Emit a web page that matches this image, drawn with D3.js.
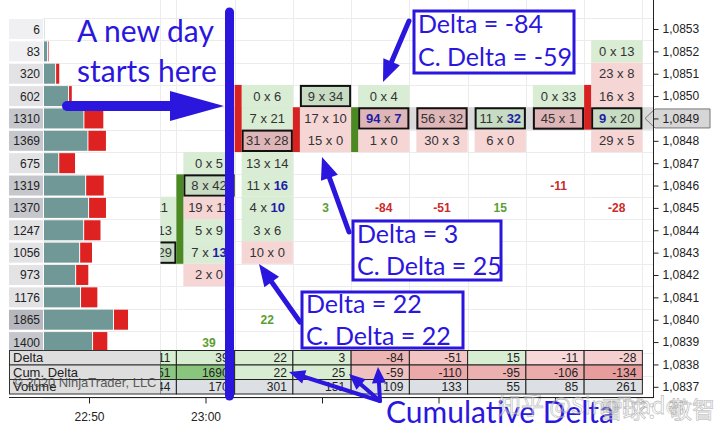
<!DOCTYPE html>
<html><head><meta charset="utf-8">
<script src="https://cdn.jsdelivr.net/npm/d3@7"></script>
<style>html,body{margin:0;padding:0;background:#fff;}svg{display:block;font-family:Arial,"Liberation Sans",sans-serif;}</style>
</head><body><svg id="c" width="720" height="433"></svg>
<script>
// ---------- DATA ----------
const priceTicks = [1.0853,1.0852,1.0851,1.0850,1.0849,1.0848,1.0847,1.0846,1.0845,1.0844,1.0843,1.0842,1.0841,1.0840,1.0839,1.0838,1.0837];
const profilePrices = [1.0853,1.0852,1.0851,1.0850,1.0849,1.0848,1.0847,1.0846,1.0845,1.0844,1.0843,1.0842,1.0841,1.0840,1.0839];
const profileVolume = [6,83,320,602,1310,1369,675,1319,1370,1247,1056,973,1176,1865,1400];
const profileTeal   = [6,70,250,540,885,975,320,925,990,880,790,700,810,1550,1080];

const barTimes = ["22:55","23:00","23:05","23:10","23:15","23:20","23:25","23:30","23:35"];
const barOpen  = [null,1.0843,1.0850,1.0849,1.0848,1.0849,1.0849,1.0849,1.0850];
const barClose = [null,1.0846,1.0848,1.0848,1.0849,1.0849,1.0849,1.0849,1.0849];
const pocPrice = [1.0843,1.0846,1.0848,1.0850,1.0849,1.0849,1.0849,1.0849,1.0849];
// [price, bid, ask]
const fp2255 = [[1.0845,8,11],[1.0844,12,13],[1.0843,10,29]];
const fp2300 = [[1.0847,0,5],[1.0846,8,42],[1.0845,19,11],[1.0844,5,9],[1.0843,7,13],[1.0842,2,0]];
const fp2305 = [[1.0850,0,6],[1.0849,7,21],[1.0848,31,28],[1.0847,13,14],[1.0846,11,16],[1.0845,4,10],[1.0844,3,6],[1.0843,10,0]];
const fp2310 = [[1.0850,9,34],[1.0849,17,10],[1.0848,15,0]];
const fp2315 = [[1.0850,0,4],[1.0849,94,7],[1.0848,1,0]];
const fp2320 = [[1.0849,56,32],[1.0848,30,3]];
const fp2325 = [[1.0849,11,32],[1.0848,6,0]];
const fp2330 = [[1.0850,0,33],[1.0849,45,1]];
const fp2335 = [[1.0852,0,13],[1.0851,23,8],[1.0850,16,3],[1.0849,9,20],[1.0848,29,5]];
const footprint = [fp2255,fp2300,fp2305,fp2310,fp2315,fp2320,fp2325,fp2330,fp2335];

const deltaRow    = [11,39,22,3,-84,-51,15,-11,-28];
const cumDeltaRow = [1651,1690,22,25,-59,-110,-95,-106,-134];
const volumeRow   = [144,170,301,151,109,133,55,85,261];
const tableNames  = ["Delta","Cum. Delta","Volume"];
const timeTicks   = ["22:50","23:00","23:10","23:20","23:30"];
const timeLabels  = ["22:50","23:00"];
const currentPrice = 1.0849;
const newDayStart = "23:05";

// ---------- SETUP ----------
const svg = d3.select("#c");
const BLUE = "#2b16de";
const parseT = s => { const [h,m] = s.split(":").map(Number); return new Date(2020,0,1,h,m); };
const x = d3.scaleTime().domain([parseT("22:50"), parseT("23:00")]).range([89, 205.5]);
const colW = x(parseT("22:55")) - x(parseT("22:50"));
const y = d3.scaleLinear().domain([1.0853, 1.0837]).range([29, 386.8]);
const rowH = y(1.0852) - y(1.0853);
const TICK = 0.0001;
const key = p => Math.round(p*10000);
const AXX = 653;

svg.append("rect").attr("width",720).attr("height",433).attr("fill","#fff");

const defs = svg.append("defs");
defs.append("clipPath").attr("id","plotClip").append("rect").attr("x",160.5).attr("y",0).attr("width",AXX-160.5).attr("height",433);

// ---------- GRID ----------
const grid = svg.append("g").attr("stroke","#ececec").attr("stroke-width",1);
[1.0854].concat(priceTicks).forEach(p => {
  const yy = Math.round(y(p)+rowH/2)+0.5;
  grid.append("line").attr("x1",43).attr("x2",AXX).attr("y1",yy).attr("y2",yy);
});
d3.timeMinute.every(5).range(parseT("22:45"), parseT("23:45")).forEach(t => {
  const xx = Math.round(x(t) - colW/2)+0.5;
  if (xx > 160 && xx < AXX) grid.append("line").attr("x1",xx).attr("x2",xx).attr("y1",0).attr("y2",350);
});
grid.append("line").attr("x1",160.5).attr("x2",160.5).attr("y1",0).attr("y2",350);

// ---------- FOOTPRINT ----------
const fpG = svg.append("g").attr("clip-path","url(#plotClip)");
fpG.append("rect").attr("x", x(parseT(newDayStart)) - colW/2).attr("width", AXX - (x(parseT(newDayStart)) - colW/2))
  .attr("y", y(currentPrice)-rowH/2).attr("height", rowH).attr("fill","#dadada");

footprint.forEach((cells, i) => {
  const cx = x(parseT(barTimes[i]));
  const left = cx - colW/2;
  const cellX = left + 7, cellW = colW - 7;
  const bidAt = {}, askAt = {};
  cells.forEach(([p,b,a]) => { bidAt[key(p)] = b; askAt[key(p)] = a; });
  const g = fpG.append("g");
  cells.forEach(([p,b,a]) => {
    const boxed = key(p) === key(pocPrice[i]);
    const red = b > a;
    const fill = boxed ? (red ? "#dfb6b8" : "#c8dbc3") : (red ? "#f6d5d5" : "#d9ecd4");
    g.append("rect").attr("x",cellX).attr("y",y(p)-rowH/2).attr("width",cellW).attr("height",rowH).attr("fill",fill);
    if (boxed) g.append("rect").attr("x",cellX+1).attr("y",y(p)-rowH/2+1).attr("width",cellW-2).attr("height",rowH-2)
      .attr("fill","none").attr("stroke","#111").attr("stroke-width",2);
    const bBelow = bidAt[key(p)-1], aAbove = askAt[key(p)+1];
    const askImb = bBelow > 0 && a >= 3*bBelow;
    const bidImb = aAbove > 0 && b >= 3*aAbove;
    const t = g.append("text").attr("x",cellX+cellW/2).attr("y",y(p)+4.5).attr("text-anchor","middle")
      .attr("font-size",13).attr("fill","#333");
    t.append("tspan").text(b).attr("fill",bidImb?"#1f1fa5":null).attr("font-weight",bidImb?"bold":null);
    t.append("tspan").text(" x ");
    t.append("tspan").text(a).attr("fill",askImb?"#1f1fa5":null).attr("font-weight",askImb?"bold":null);
  });
  if (barOpen[i] !== null && key(barOpen[i]) !== key(barClose[i])) {
    const hi = Math.max(barOpen[i], barClose[i]), lo = Math.min(barOpen[i], barClose[i]);
    g.append("rect").attr("x",left).attr("width",7).attr("y",y(hi)-rowH/2).attr("height",y(lo)-y(hi)+rowH)
      .attr("fill", barClose[i] > barOpen[i] ? "#4b8a22" : "#d82222");
  }
  const low = d3.min(cells, c => c[0]);
  g.append("text").attr("x",cellX+cellW/2).attr("y",y(low-3*TICK)+4.5).attr("text-anchor","middle")
    .attr("font-size",12).attr("font-weight","bold").attr("fill",deltaRow[i]>=0?"#5a9e30":"#cc2a2a").text(deltaRow[i]);
});

// ---------- VOLUME PROFILE ----------
const px = d3.scaleLinear().domain([0,1865]).range([44,127]);
const labelFill = d3.scaleThreshold().domain([100,1300,1800]).range(["#f0f0f2","#e3e3e6","#c6c7cc","#b6b7be"]);
const prof = svg.append("g");
profilePrices.forEach((p,i) => {
  const yc = y(p);
  prof.append("rect").attr("x",9).attr("y",yc-10).attr("width",34).attr("height",20).attr("fill",labelFill(profileVolume[i]));
  prof.append("text").attr("x",40).attr("y",yc+4.5).attr("text-anchor","end").attr("font-size",12).attr("fill","#222").text(profileVolume[i]);
  prof.append("rect").attr("x",px(0)).attr("y",yc-10).attr("width",px(profileTeal[i])-px(0)).attr("height",20).attr("fill","#6f9896");
  const rw = px(profileVolume[i]) - px(profileTeal[i]);
  if (rw > 0.5) prof.append("rect").attr("x",px(profileTeal[i])+1).attr("y",yc-10).attr("width",rw).attr("height",20).attr("fill","#de2222");
});

// ---------- TABLE ----------
const tTop = 350.5, tRow = 14.5;
const posFill = d3.scaleLinear().domain([0,2000]).range(["#d9eed3","#7cbd6e"]).clamp(true);
const negFill = d3.scaleLinear().domain([0,-150]).range(["#f8dcdc","#e69696"]).clamp(true);
const tab = svg.append("g");
[deltaRow, cumDeltaRow, volumeRow].forEach((row, r) => {
  const ty = tTop + r*tRow;
  tab.append("rect").attr("x",9.5).attr("y",ty).attr("width",151).attr("height",tRow).attr("fill","#dedede").attr("stroke","#333");
  const cg = tab.append("g").attr("clip-path","url(#plotClip)");
  row.forEach((v,i) => {
    const left = x(parseT(barTimes[i])) - colW/2;
    const fill = r === 2 ? "#dcdfe3" : (v >= 0 ? posFill(v) : negFill(v));
    cg.append("rect").attr("x",left).attr("y",ty).attr("width",colW).attr("height",tRow).attr("fill",fill).attr("stroke","#222");
    cg.append("text").attr("x",left+colW-6).attr("y",ty+11.5).attr("text-anchor","end").attr("font-size",12).attr("fill","#222").text(v);
  });
});
tableNames.forEach((n,r) => {
  tab.append("text").attr("x",13).attr("y",tTop + r*tRow + 11.5).attr("font-size",13).attr("fill","#222").text(n);
});
tab.append("text").attr("x",13).attr("y",387).attr("font-size",13).attr("fill","#444").attr("opacity",0.85).text("© 2020 NinjaTrader, LLC");

// ---------- AXES ----------
svg.append("line").attr("x1",9).attr("x2",AXX).attr("y1",397.5).attr("y2",397.5).attr("stroke","#222");
const xa = svg.append("g").attr("transform","translate(0,397.5)")
  .call(d3.axisBottom(x).tickValues(timeTicks.map(parseT)).tickSize(6).tickSizeOuter(0).tickPadding(9)
    .tickFormat(d => { const s = d3.timeFormat("%H:%M")(d); return timeLabels.includes(s) ? s : ""; }));
xa.select(".domain").remove();
xa.selectAll("text").attr("font-size",12).attr("font-family","Arial").attr("fill","#222");
xa.selectAll("line").attr("stroke","#222");

const cy = y(currentPrice);
svg.append("polygon").attr("points",[[645,cy],[655,cy-9.5],[710,cy-9.5],[710,cy+9.5],[655,cy+9.5]].map(p=>p.join(",")).join(" "))
  .attr("fill","#d6d6d6").attr("stroke","#777");

svg.append("line").attr("x1",AXX+0.5).attr("x2",AXX+0.5).attr("y1",0).attr("y2",398).attr("stroke","#222");
const ya = svg.append("g").attr("transform",`translate(${AXX+0.5},0)`)
  .call(d3.axisRight(y).tickValues(priceTicks).tickSize(5).tickPadding(4).tickFormat(d => d.toFixed(4).replace(".",",")));
ya.select(".domain").remove();
ya.selectAll("text").attr("font-size",12).attr("font-family","Arial").attr("fill","#222");
ya.selectAll("line").attr("stroke","#222");

// ---------- ANNOTATIONS ----------
const ann = svg.append("g").attr("font-family","Lato, 'Open Sans', sans-serif").attr("fill",BLUE);
function arrow(x1,y1,x2,y2,w,L,hw){
  const dx=x2-x1, dy=y2-y1, len=Math.hypot(dx,dy), ux=dx/len, uy=dy/len;
  const bx=x2-ux*L, by=y2-uy*L;
  ann.append("line").attr("x1",x1).attr("y1",y1).attr("x2",bx+ux*2).attr("y2",by+uy*2)
    .attr("stroke",BLUE).attr("stroke-width",w).attr("stroke-linecap","round");
  ann.append("polygon").attr("points",[[x2,y2],[bx-uy*hw,by+ux*hw],[bx+uy*hw,by-ux*hw]].map(p=>p.join(",")).join(" ")).attr("fill",BLUE);
}
ann.append("text").attr("x",77).attr("y",42).attr("font-size",30).text("A new day");
ann.append("text").attr("x",77).attr("y",82).attr("font-size",30).text("starts here");
ann.append("line").attr("x1",229.5).attr("x2",229.5).attr("y1",12).attr("y2",396).attr("stroke",BLUE).attr("stroke-width",9).attr("stroke-linecap","round");
arrow(67,106,224,106,10,54,15);

function box(x0,y0,x1,y1,l1,l2,b1,b2){
  ann.append("rect").attr("x",x0).attr("y",y0).attr("width",x1-x0).attr("height",y1-y0).attr("fill","#fff").attr("stroke",BLUE).attr("stroke-width",3);
  ann.append("text").attr("x",x0+4).attr("y",b1).attr("font-size",25).text(l1);
  ann.append("text").attr("x",x0+4).attr("y",b2).attr("font-size",25).text(l2);
}
box(414,11,574,73,"Delta = -84","C. Delta = -59",33,66);
arrow(409,21,383,82,5,22,9);
box(353,221,501,280,"Delta = 3","C. Delta = 25",243,275);
arrow(349,232,322,157,5,22,9);
box(302,292,463,348,"Delta = 22","C. Delta = 22",313,345);
arrow(300,322,259,264,5,22,9);
ann.append("text").attr("x",386).attr("y",423).attr("font-size",30).text("Cumulative Delta");
arrow(380,401,289,372,4,16,7);
arrow(380,401,349,374,4,16,7);
arrow(380,401,378,367,4,16,7);

// ---------- WATERMARK ----------
const wm = svg.append("g").attr("font-family","'Noto Sans CJK SC', sans-serif").attr("font-size",23)
  .attr("fill","rgba(255,255,255,0.45)").attr("stroke","rgba(120,120,120,0.45)").attr("stroke-width",0.8);
wm.append("text").attr("x",498).attr("y",414).text("知乎 @SinoTrader");
wm.append("text").attr("x",600).attr("y",418).text("雪球：敬智");
</script></body></html>
